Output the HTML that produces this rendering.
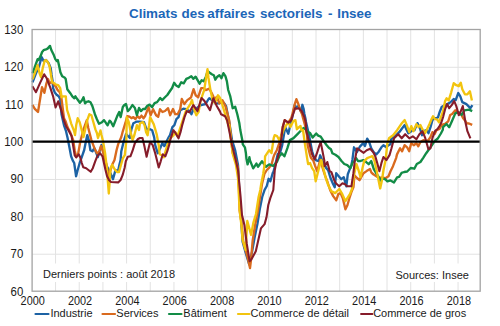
<!DOCTYPE html>
<html><head><meta charset="utf-8"><style>
html,body{margin:0;padding:0;background:#fff;}
body{width:500px;height:326px;overflow:hidden;position:relative;font-family:"Liberation Sans",sans-serif;}
svg{position:absolute;left:0;top:0;}
text{font-family:"Liberation Sans",sans-serif;font-size:11px;fill:#1a1a1a;}
.ax{font-size:11.5px;}
.yl{font-size:12.4px;}
.xl{font-size:12.1px;}
.title{font-size:13.4px;font-weight:bold;fill:#1c66b8;}
</style></head><body>
<svg width="500" height="326" viewBox="0 0 500 326">
<g class="title"><text class="title" transform="translate(129,17.6)">Climats</text><text class="title" transform="translate(181.5,17.6)">des</text><text class="title" transform="translate(207.3,17.6)">affaires</text><text class="title" transform="translate(260,17.6)">sectoriels</text><text class="title" transform="translate(328,17.6)">-</text><text class="title" transform="translate(337.2,17.6)">Insee</text></g>
<line x1="55.56" y1="29.5" x2="55.56" y2="291.2" stroke="#e2e2e2" stroke-width="1"/><line x1="79.23" y1="29.5" x2="79.23" y2="291.2" stroke="#e2e2e2" stroke-width="1"/><line x1="102.91" y1="29.5" x2="102.91" y2="291.2" stroke="#e2e2e2" stroke-width="1"/><line x1="126.59" y1="29.5" x2="126.59" y2="291.2" stroke="#e2e2e2" stroke-width="1"/><line x1="150.26" y1="29.5" x2="150.26" y2="291.2" stroke="#e2e2e2" stroke-width="1"/><line x1="173.94" y1="29.5" x2="173.94" y2="291.2" stroke="#e2e2e2" stroke-width="1"/><line x1="197.62" y1="29.5" x2="197.62" y2="291.2" stroke="#e2e2e2" stroke-width="1"/><line x1="221.30" y1="29.5" x2="221.30" y2="291.2" stroke="#e2e2e2" stroke-width="1"/><line x1="244.97" y1="29.5" x2="244.97" y2="291.2" stroke="#e2e2e2" stroke-width="1"/><line x1="268.65" y1="29.5" x2="268.65" y2="291.2" stroke="#e2e2e2" stroke-width="1"/><line x1="292.33" y1="29.5" x2="292.33" y2="291.2" stroke="#e2e2e2" stroke-width="1"/><line x1="316.00" y1="29.5" x2="316.00" y2="291.2" stroke="#e2e2e2" stroke-width="1"/><line x1="339.68" y1="29.5" x2="339.68" y2="291.2" stroke="#e2e2e2" stroke-width="1"/><line x1="363.36" y1="29.5" x2="363.36" y2="291.2" stroke="#e2e2e2" stroke-width="1"/><line x1="387.03" y1="29.5" x2="387.03" y2="291.2" stroke="#e2e2e2" stroke-width="1"/><line x1="410.71" y1="29.5" x2="410.71" y2="291.2" stroke="#e2e2e2" stroke-width="1"/><line x1="434.39" y1="29.5" x2="434.39" y2="291.2" stroke="#e2e2e2" stroke-width="1"/><line x1="458.07" y1="29.5" x2="458.07" y2="291.2" stroke="#e2e2e2" stroke-width="1"/><line x1="32.1" y1="254.21" x2="480.2" y2="254.21" stroke="#e2e2e2" stroke-width="1"/><line x1="32.1" y1="216.83" x2="480.2" y2="216.83" stroke="#e2e2e2" stroke-width="1"/><line x1="32.1" y1="179.44" x2="480.2" y2="179.44" stroke="#e2e2e2" stroke-width="1"/><line x1="32.1" y1="142.06" x2="480.2" y2="142.06" stroke="#e2e2e2" stroke-width="1"/><line x1="32.1" y1="104.67" x2="480.2" y2="104.67" stroke="#e2e2e2" stroke-width="1"/><line x1="32.1" y1="67.29" x2="480.2" y2="67.29" stroke="#e2e2e2" stroke-width="1"/><polyline points="32.5,82.4 36.0,73.3 39.1,66.2 41.6,57.1 43.7,61.1 46.0,60.0 48.7,63.2 50.7,68.2 51.6,75.0 52.6,81.1 53.1,88.2 54.6,92.2 56.6,94.7 58.7,96.3 60.2,99.3 61.5,114.2 64.0,125.3 66.1,131.4 67.6,138.1 69.6,148.2 71.1,156.3 72.7,160.4 74.2,163.0 76.1,176.3 77.6,170.2 79.6,163.2 82.1,156.1 84.2,150.0 85.8,142.1 87.3,135.1 88.8,140.1 90.4,150.2 92.4,151.3 94.4,148.2 96.4,153.3 97.8,157.1 99.4,152.0 101.5,145.0 103.5,152.0 106.4,165.2 107.8,168.0 111.0,174.4 113.0,179.2 115.4,170.4 118.2,170.4 119.4,164.8 120.6,160.0 121.3,151.2 123.8,141.1 126.0,134.0 129.9,138.0 131.4,129.3 133.4,123.2 136.4,121.7 140.0,121.6 144.0,122.1 146.1,128.2 148.1,129.7 150.1,129.2 152.1,130.2 154.2,137.3 155.2,145.1 157.7,153.2 160.2,148.2 162.3,143.1 164.3,146.1 166.8,141.1 168.8,137.0 170.0,135.0 172.4,127.2 174.4,125.2 176.4,119.1 178.5,117.1 180.2,110.2 183.3,108.7 186.3,109.2 189.4,111.2 191.4,114.2 193.4,109.2 197.0,108.0 201.0,105.0 205.5,104.1 208.6,99.0 209.3,98.2 212.3,100.2 215.4,103.3 219.4,103.3 222.4,101.3 224.1,103.2 226.1,106.2 229.2,122.0 232.0,140.0 235.2,150.4 238.0,165.0 239.6,197.0 240.5,210.0 242.6,241.6 245.6,252.4 249.2,264.4 252.0,252.0 254.5,238.0 257.4,224.0 259.8,209.0 262.2,197.0 264.6,189.8 266.8,186.0 268.6,178.8 270.4,181.2 272.8,172.8 273.1,173.0 275.2,165.3 277.7,154.2 280.2,152.1 282.2,145.1 285.2,127.1 288.3,133.7 290.3,125.1 292.3,117.0 294.7,105.2 296.0,107.2 298.5,106.0 301.2,112.0 302.4,104.8 303.6,108.8 304.4,114.0 305.4,118.3 306.0,122.0 309.0,135.0 312.1,151.3 313.7,156.3 316.2,160.4 318.7,161.0 320.2,155.3 322.0,160.0 324.3,164.1 326.3,168.1 328.1,170.1 330.5,178.0 333.2,184.3 334.7,187.3 336.2,173.2 338.7,176.2 341.3,179.2 343.8,177.2 346.3,186.3 347.8,174.2 349.4,170.1 351.4,165.1 352.4,160.0 354.0,147.3 357.0,152.0 360.1,146.3 363.2,143.2 365.0,146.0 367.2,138.7 369.2,142.2 371.3,148.3 373.8,152.3 376.3,154.4 378.3,152.3 381.4,147.3 383.4,145.2 386.0,147.0 388.5,145.2 390.5,144.2 391.1,139.3 395.1,136.3 399.2,132.2 402.2,128.2 404.7,125.1 406.3,129.2 408.3,133.2 411.3,131.2 414.4,130.2 417.4,123.1 419.9,128.2 422.0,135.2 424.0,131.2 426.5,130.2 428.5,133.2 430.5,127.1 432.4,120.2 434.5,118.2 436.5,118.2 438.0,117.3 439.6,112.2 441.6,107.1 445.0,105.0 449.2,103.1 451.7,101.1 453.7,99.0 455.7,100.1 458.3,93.0 460.3,96.3 462.3,102.1 464.4,103.1 466.4,104.1 468.4,106.1 470.4,108.2 472.4,105.1" fill="none" stroke="#1c62a4" stroke-width="2.35" stroke-linejoin="round"/><polyline points="32.4,104.8 34.8,108.8 38.0,112.0 42.0,87.2 44.4,92.8 46.5,83.1 48.0,79.0 49.6,83.1 52.0,82.0 54.1,84.6 56.1,87.1 57.7,90.2 59.7,92.2 61.2,96.3 64.0,118.2 65.6,121.3 67.6,127.3 70.1,132.0 73.2,140.1 74.7,150.2 76.2,157.0 78.1,154.0 80.2,142.1 83.3,130.0 86.8,120.2 88.3,128.0 91.4,140.1 94.4,148.2 97.0,153.3 99.0,152.0 101.0,146.0 102.4,150.0 105.4,160.1 107.5,170.2 108.5,178.3 110.0,172.0 112.2,164.8 114.5,160.1 116.6,150.0 118.2,144.1 121.3,137.0 122.8,131.3 125.3,123.2 127.3,116.1 129.4,116.6 131.4,118.2 133.4,117.1 135.4,119.2 137.4,116.1 139.5,118.2 141.5,115.6 143.5,118.2 145.0,116.3 148.5,107.1 150.6,115.2 153.1,109.2 156.1,115.2 158.2,116.8 160.0,109.2 162.5,112.0 165.0,111.0 168.1,108.2 170.1,115.2 173.0,109.0 175.2,114.2 177.7,114.0 180.2,109.2 181.8,99.0 184.3,104.1 187.3,100.1 190.4,98.0 191.1,97.2 193.6,89.1 195.6,95.2 198.2,97.2 201.2,88.1 203.2,88.1 205.7,90.1 209.3,88.6 211.8,93.2 214.5,99.0 216.9,97.0 219.4,103.3 222.4,100.2 225.5,106.3 227.1,112.3 229.2,120.4 231.2,140.2 232.7,153.0 235.6,159.6 238.0,168.0 239.0,189.0 239.6,210.0 241.9,225.7 243.2,241.6 245.6,250.0 248.0,259.0 250.0,268.0 251.0,260.0 252.6,241.0 255.0,225.7 258.0,210.3 260.3,195.0 262.0,184.0 264.4,174.0 266.8,170.0 269.2,167.6 271.6,164.4 273.2,158.0 274.2,155.0 276.8,150.2 279.3,143.2 281.3,135.1 282.7,127.1 284.7,120.1 288.3,122.6 291.3,118.0 292.4,114.0 294.8,104.0 296.4,99.2 298.0,103.2 300.4,110.4 302.0,114.0 303.0,118.0 305.0,125.1 307.0,135.2 307.6,145.2 310.1,155.3 311.1,158.0 313.2,160.4 315.2,166.1 317.2,171.2 320.2,160.0 323.3,170.1 325.3,176.2 327.5,182.0 330.2,190.1 333.2,196.1 336.3,200.2 338.3,194.1 340.5,193.0 342.8,198.2 345.4,209.3 347.4,205.2 349.4,198.2 351.4,192.1 353.5,187.0 354.4,175.2 357.0,178.0 359.5,180.2 363.5,173.2 366.6,171.1 370.0,169.1 371.3,172.3 373.3,174.3 376.0,176.0 379.0,178.0 382.4,177.3 385.4,178.3 388.5,176.3 390.5,171.3 393.0,166.2 396.1,158.1 397.0,154.4 400.1,148.3 402.1,151.3 404.6,145.2 407.1,147.3 409.2,151.3 411.2,143.2 413.7,145.2 416.3,143.2 418.3,146.3 420.3,142.2 423.3,140.2 426.0,141.0 428.5,140.0 430.4,137.1 432.4,132.1 434.5,134.1 436.5,130.1 439.5,129.0 441.6,125.0 445.0,124.0 448.2,121.3 450.2,115.0 452.2,114.0 455.3,110.3 458.3,113.0 461.0,114.0 463.0,118.0 465.4,121.0 466.8,123.4 469.0,123.5 472.2,124.9" fill="none" stroke="#d96a1e" stroke-width="2.35" stroke-linejoin="round"/><polyline points="32.5,73.3 34.5,68.0 37.6,59.1 38.6,60.1 40.6,56.1 42.1,52.0 43.6,50.2 46.0,49.4 47.6,48.6 50.0,45.9 51.3,50.0 53.8,55.1 55.3,59.1 56.8,61.1 57.8,60.1 59.4,67.2 60.4,72.3 62.2,76.3 64.9,77.8 65.7,79.0 67.3,89.2 70.3,93.2 72.3,96.3 74.4,98.3 75.4,96.3 77.4,99.3 79.9,102.8 82.0,100.3 83.5,97.3 85.0,103.3 86.5,101.8 88.5,101.3 90.5,102.3 92.4,106.1 94.9,114.2 96.9,119.2 99.0,123.8 100.0,123.2 102.0,122.2 104.0,120.2 106.1,123.2 107.6,125.2 109.6,120.7 111.1,122.2 113.2,126.3 115.2,121.2 117.2,116.1 119.2,112.1 120.7,117.1 122.8,107.0 124.3,105.0 126.0,104.0 127.8,111.1 129.9,109.0 132.4,105.0 134.9,108.0 136.9,115.1 139.0,108.0 141.0,111.1 143.0,109.0 145.0,109.0 147.0,106.1 149.6,104.6 152.1,107.1 154.6,103.1 157.1,102.1 160.2,98.0 162.2,100.1 164.7,97.5 167.3,95.0 170.0,91.0 172.1,88.0 174.1,82.8 176.1,85.4 178.7,86.9 181.2,82.3 183.7,83.3 186.3,78.8 188.8,77.8 191.3,76.3 193.3,78.8 195.6,76.7 197.6,80.2 199.6,83.8 201.6,80.2 203.7,81.3 205.7,77.2 207.7,71.1 209.7,72.7 211.8,74.2 213.8,75.2 215.3,79.7 217.3,76.7 219.4,75.2 221.4,78.2 223.4,73.2 225.4,76.2 226.9,81.3 228.2,90.0 230.2,96.1 232.7,108.2 235.2,106.7 237.3,114.3 239.3,123.0 240.3,130.1 242.3,140.2 242.8,144.3 244.9,147.3 245.9,153.0 246.4,158.4 247.6,164.4 249.4,157.2 250.0,160.4 253.2,168.4 256.4,163.6 258.0,166.8 262.0,161.2 266.0,166.8 269.2,164.4 273.2,166.0 277.2,161.4 279.3,156.3 281.8,153.3 284.4,156.3 287.4,148.2 289.9,140.1 293.5,138.1 297.5,134.1 300.5,131.0 303.5,128.0 305.5,129.2 308.1,132.0 310.1,133.0 312.7,137.6 316.2,133.5 318.2,135.6 320.7,136.6 323.3,140.6 326.3,144.7 328.8,147.7 330.9,149.2 332.4,153.3 335.4,154.8 338.5,157.0 341.5,161.0 344.3,164.0 347.3,165.1 350.4,168.1 352.4,163.0 354.5,161.0 356.1,158.1 358.1,161.1 360.5,161.0 363.2,160.1 366.2,162.1 368.7,164.2 371.3,161.1 373.8,169.2 376.3,173.3 378.3,176.3 380.4,180.4 382.4,178.3 385.4,179.4 387.4,181.4 390.5,180.4 394.0,182.4 397.1,177.3 399.1,176.8 401.6,172.8 404.2,172.0 407.2,171.5 410.7,168.0 414.3,168.7 416.8,164.0 420.4,162.0 423.4,157.6 426.2,153.2 429.8,148.3 432.3,144.6 434.8,140.9 437.8,138.5 440.9,133.5 442.8,129.8 443.0,127.2 446.5,124.0 449.2,127.2 452.0,121.0 455.3,113.4 458.3,112.2 461.5,114.9 464.5,110.3 469.1,109.6 472.2,111.1" fill="none" stroke="#128c46" stroke-width="2.35" stroke-linejoin="round"/><polyline points="32.5,79.4 35.1,72.3 37.6,65.2 39.6,73.3 41.1,77.3 42.7,68.2 44.7,60.6 46.2,60.1 48.2,62.7 49.7,67.2 50.7,73.3 52.1,82.1 54.1,83.1 56.1,84.6 58.2,85.1 60.2,88.2 61.7,97.3 63.2,96.3 65.8,96.3 66.1,100.0 67.1,110.0 69.1,116.2 71.1,123.3 74.2,131.4 75.0,135.0 76.2,125.3 77.7,118.2 79.7,122.3 81.8,130.4 83.5,137.0 85.5,128.0 87.3,120.2 89.4,114.2 91.4,115.2 93.4,122.3 95.4,129.4 96.9,133.0 98.0,138.0 100.5,130.4 101.5,135.0 103.0,141.1 105.1,153.2 106.5,165.0 107.6,178.0 108.8,193.5 109.8,180.0 110.6,168.0 112.2,164.8 114.5,169.0 117.0,172.0 119.0,172.0 121.0,164.8 123.0,158.0 124.8,155.2 126.3,141.1 126.8,117.1 128.8,122.2 130.9,133.3 132.5,140.0 134.4,135.0 136.9,125.2 139.0,130.0 140.0,123.1 143.0,122.1 144.6,125.2 146.1,132.2 147.6,135.3 149.1,125.2 150.1,117.1 151.6,120.1 153.7,124.1 155.2,129.2 156.7,134.3 158.7,145.0 159.7,154.2 161.8,155.2 163.8,157.3 165.8,150.2 168.0,143.0 170.5,138.0 173.4,135.3 175.4,132.2 177.4,136.3 179.5,130.2 181.5,124.1 183.5,118.1 185.5,112.0 186.3,110.2 190.4,104.1 192.0,100.0 194.4,110.2 196.4,115.2 198.5,112.2 200.5,101.1 202.5,95.0 204.2,90.1 206.5,75.0 207.5,69.2 208.5,78.0 210.3,89.2 212.6,99.9 214.9,103.0 218.0,95.3 220.0,98.0 221.8,103.0 224.1,110.7 226.4,118.3 228.7,126.0 229.2,125.0 231.0,140.0 233.0,155.0 236.0,165.0 238.0,178.0 239.6,210.0 241.4,225.0 242.6,240.0 245.6,250.0 247.3,221.0 251.1,234.9 253.4,222.6 256.0,214.0 258.6,197.0 260.3,190.0 261.2,184.0 263.2,174.0 264.8,162.8 265.1,156.3 269.2,150.2 271.5,153.0 273.7,138.1 274.7,135.1 277.0,136.0 279.3,140.1 281.0,137.0 283.5,130.0 286.3,125.1 288.5,122.0 290.5,127.0 293.3,121.1 295.4,120.1 296.9,129.2 298.9,127.1 300.5,126.0 301.4,130.2 303.0,130.0 305.1,145.2 307.1,158.0 308.1,164.1 310.1,163.1 312.1,168.1 314.2,171.2 315.7,181.3 317.7,173.2 319.7,165.1 321.3,160.0 323.3,168.1 325.8,178.2 328.2,185.0 331.2,191.1 335.2,193.1 339.3,189.0 342.3,194.1 345.4,201.2 349.9,194.1 352.0,189.0 354.0,175.0 356.4,164.0 358.5,170.0 360.5,177.2 362.5,168.0 364.2,161.1 367.2,158.1 370.0,157.0 372.3,156.1 374.3,160.1 376.5,170.0 378.5,180.0 380.2,188.4 382.0,180.0 383.5,170.0 385.6,160.0 387.4,143.2 389.0,138.3 393.1,135.2 397.1,130.2 401.2,124.1 404.7,120.1 406.8,125.1 409.3,132.2 411.3,126.1 413.3,131.2 416.4,124.1 418.5,127.0 420.4,125.1 422.4,129.2 425.0,133.2 427.5,128.2 429.5,124.0 431.6,119.0 433.0,116.2 435.0,119.2 437.0,119.3 439.0,122.3 443.1,111.2 445.1,101.1 446.6,98.3 448.7,100.4 451.2,92.3 453.7,83.2 456.3,85.2 458.8,86.2 460.8,82.7 462.3,89.2 464.9,94.3 467.4,94.3 469.9,91.3 471.9,100.4" fill="none" stroke="#f2c40f" stroke-width="2.35" stroke-linejoin="round"/><polyline points="32.4,86.2 36.0,92.2 40.2,82.6 44.2,74.3 46.7,78.3 50.1,87.1 53.1,96.3 55.6,107.4 58.2,101.3 61.5,111.1 63.5,119.2 66.1,126.3 69.1,131.4 71.6,136.1 73.2,146.2 74.7,155.3 76.2,157.3 78.7,154.3 80.2,157.3 81.8,163.0 83.2,167.2 86.2,168.2 88.7,170.2 90.7,171.8 92.8,168.2 95.3,161.1 97.3,156.1 100.0,153.2 102.5,156.3 104.0,163.3 105.4,169.6 107.0,176.0 109.0,180.0 111.0,182.0 118.2,182.4 120.6,180.0 122.6,175.2 124.6,168.0 125.8,161.3 127.8,156.8 130.4,156.3 132.4,151.2 134.9,143.1 138.0,139.0 140.0,138.0 142.5,138.0 144.6,147.1 146.6,156.8 148.1,150.2 150.1,142.1 152.7,145.1 155.2,153.2 157.2,161.3 158.7,167.4 160.7,161.3 162.8,154.2 165.3,156.3 167.3,151.2 169.4,144.1 170.4,139.3 173.4,130.2 175.5,133.0 178.5,138.3 180.5,132.2 182.5,124.1 184.5,117.1 186.8,111.2 189.4,112.2 193.4,105.1 197.4,111.2 201.5,98.0 204.5,101.1 207.6,106.1 210.0,110.2 213.3,98.2 216.9,106.3 219.9,111.4 221.1,114.3 225.1,116.3 227.1,120.4 229.5,132.0 232.0,145.0 235.6,159.6 238.0,170.0 240.6,197.0 242.0,215.0 244.4,225.0 246.8,244.0 249.6,261.2 251.6,259.0 255.8,251.2 257.2,245.0 260.9,228.4 264.6,224.1 266.5,217.3 268.3,205.0 270.3,198.1 273.3,190.0 274.8,170.0 276.4,162.0 277.6,158.0 278.7,154.0 280.2,146.0 281.7,136.0 282.7,127.1 284.7,120.1 288.3,122.6 291.3,120.1 292.7,115.3 295.2,108.2 296.4,108.8 298.8,108.2 301.8,111.3 304.4,117.3 305.9,123.0 306.1,130.0 308.1,138.1 310.1,146.2 312.1,154.3 314.7,159.4 317.2,152.3 319.2,146.2 320.7,142.1 322.3,150.2 324.3,160.4 324.6,166.1 327.3,162.0 329.6,171.1 331.4,172.2 334.2,180.2 335.9,183.3 339.2,186.3 342.5,183.3 345.0,184.3 347.3,186.3 351.4,186.3 353.4,173.2 354.9,160.0 357.1,148.3 360.1,150.3 363.7,152.8 366.7,150.3 370.2,148.8 373.3,152.3 375.3,156.4 377.3,163.2 379.4,171.3 381.4,163.2 383.4,157.1 386.4,160.1 389.5,155.1 391.5,148.3 394.1,138.3 398.2,134.2 401.7,138.3 405.2,134.2 409.3,138.3 412.8,136.3 416.4,139.3 419.4,134.2 422.4,131.2 425.0,137.3 427.5,146.0 428.4,149.3 430.4,148.3 432.4,138.2 435.0,131.1 437.5,129.0 439.5,126.0 441.1,123.1 443.1,117.0 445.1,109.2 447.1,104.1 449.2,108.2 451.7,105.1 454.2,101.1 456.3,106.1 458.8,115.2 460.8,111.2 462.8,106.1 465.4,122.0 467.4,131.2 470.4,138.3" fill="none" stroke="#861c2a" stroke-width="2.1" stroke-linejoin="round"/><line x1="32.1" y1="141.66" x2="480.2" y2="141.66" stroke="#000" stroke-width="2.2"/><rect x="32.1" y="29.5" width="448.09999999999997" height="261.7" fill="none" stroke="#a3a3a3" stroke-width="1.3"/>
<text class="yl" transform="translate(23.3,295.6) scale(0.92,1)" text-anchor="end">60</text><text class="yl" transform="translate(23.3,258.2) scale(0.92,1)" text-anchor="end">70</text><text class="yl" transform="translate(23.3,220.8) scale(0.92,1)" text-anchor="end">80</text><text class="yl" transform="translate(23.3,183.4) scale(0.92,1)" text-anchor="end">90</text><text class="yl" transform="translate(23.3,146.0) scale(0.92,1)" text-anchor="end">100</text><text class="yl" transform="translate(23.3,108.6) scale(0.92,1)" text-anchor="end">110</text><text class="yl" transform="translate(23.3,71.2) scale(0.92,1)" text-anchor="end">120</text><text class="yl" transform="translate(23.3,33.9) scale(0.92,1)" text-anchor="end">130</text>
<text class="xl" transform="translate(32.7,305) scale(0.9,1)" text-anchor="middle">2000</text><text class="xl" transform="translate(80.0,305) scale(0.9,1)" text-anchor="middle">2002</text><text class="xl" transform="translate(127.4,305) scale(0.9,1)" text-anchor="middle">2004</text><text class="xl" transform="translate(174.7,305) scale(0.9,1)" text-anchor="middle">2006</text><text class="xl" transform="translate(222.1,305) scale(0.9,1)" text-anchor="middle">2008</text><text class="xl" transform="translate(269.4,305) scale(0.9,1)" text-anchor="middle">2010</text><text class="xl" transform="translate(316.8,305) scale(0.9,1)" text-anchor="middle">2012</text><text class="xl" transform="translate(364.2,305) scale(0.9,1)" text-anchor="middle">2014</text><text class="xl" transform="translate(411.5,305) scale(0.9,1)" text-anchor="middle">2016</text><text class="xl" transform="translate(458.9,305) scale(0.9,1)" text-anchor="middle">2018</text>
<rect x="40" y="263.5" width="137" height="18.5" fill="#fff"/><rect x="393" y="263.5" width="79" height="18.5" fill="#fff"/>
<text x="43" y="277.7">Derniers points : août 2018</text>
<text x="395.5" y="279">Sources: Insee</text>
<line x1="35.5" y1="314" x2="48.5" y2="314" stroke="#1c62a4" stroke-width="2.2" stroke-linecap="round"/>
<text x="50.4" y="317">Industrie</text>
<line x1="102.5" y1="314" x2="115" y2="314" stroke="#d96a1e" stroke-width="2.2" stroke-linecap="round"/>
<text x="116.3" y="317">Services</text>
<line x1="169" y1="314" x2="181.5" y2="314" stroke="#128c46" stroke-width="2.2" stroke-linecap="round"/>
<text x="183.3" y="317">Bâtiment</text>
<line x1="238" y1="314" x2="249.5" y2="314" stroke="#f2c40f" stroke-width="2.2" stroke-linecap="round"/>
<text x="250.5" y="317" textLength="98.5" lengthAdjust="spacing">Commerce de détail</text>
<line x1="361" y1="314" x2="372.5" y2="314" stroke="#861c2a" stroke-width="1.8" stroke-linecap="round"/>
<text x="373.2" y="317" textLength="93" lengthAdjust="spacing">Commerce de gros</text>
</svg>
</body></html>
